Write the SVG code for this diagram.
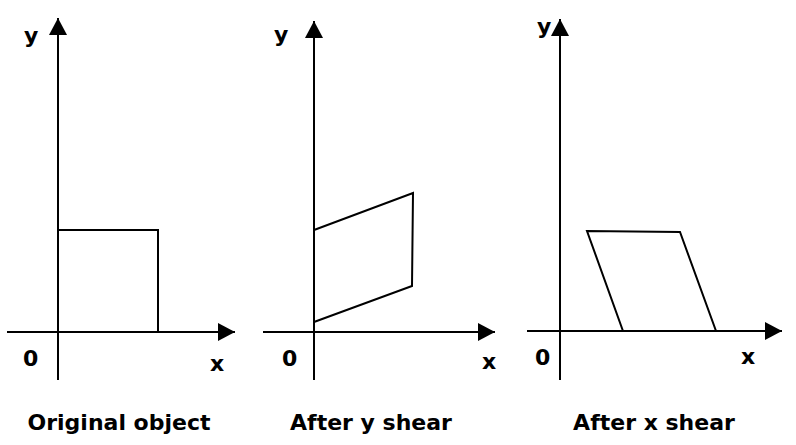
<svg xmlns="http://www.w3.org/2000/svg" width="796" height="445" viewBox="0 0 796 445">
  <style>
    .axis { stroke: #000; stroke-width: 2; fill: none; marker-end: url(#arrow); }
    .shape { stroke: #000; stroke-width: 2; fill: none; stroke-linejoin: miter; }
    .lbl { font-family: "DejaVu Sans", Verdana, sans-serif; font-weight: bold; font-size: 22px; fill: #000; }
    .title { font-family: "DejaVu Sans", Verdana, sans-serif; font-weight: bold; font-size: 22px; fill: #000; text-anchor: middle; }
  </style>
  <defs>
    <marker id="arrow" markerUnits="userSpaceOnUse" markerWidth="18" markerHeight="18" refX="17" refY="9" orient="auto">
      <path d="M0,0 L17,9 L0,18 Z" fill="#000"/>
    </marker>
  </defs>
  <rect width="796" height="445" fill="#fff"/>

  <g id="connectors">
    <line class="axis" x1="58" y1="380" x2="58" y2="18"/>
    <line class="axis" x1="7" y1="332" x2="235" y2="332"/>
    <line class="axis" x1="314" y1="380" x2="314" y2="21"/>
    <line class="axis" x1="263" y1="332" x2="495" y2="332"/>
    <line class="axis" x1="560" y1="380" x2="560" y2="19"/>
    <line class="axis" x1="527" y1="331" x2="782" y2="331"/>
  </g>

  <g id="panel-original">
    <polygon class="shape" points="58,230 158,230 158,332 58,332"/>
    <text class="lbl" x="24" y="43">y</text>
    <text class="lbl" x="23" y="366">0</text>
    <text class="lbl" x="210" y="371">x</text>
    <text class="title" x="119" y="430">Original object</text>
  </g>

  <g id="panel-yshear">
    <polygon class="shape" points="314,322 412,286 413,193 314,230"/>
    <text class="lbl" x="274" y="42">y</text>
    <text class="lbl" x="282" y="366">0</text>
    <text class="lbl" x="482" y="369">x</text>
    <text class="title" x="371" y="430">After y shear</text>
  </g>

  <g id="panel-xshear">
    <polygon class="shape" points="623,331 716,331 680,232 587,231"/>
    <text class="lbl" x="537" y="34">y</text>
    <text class="lbl" x="535" y="365">0</text>
    <text class="lbl" x="741" y="364">x</text>
    <text class="title" x="654" y="430">After x shear</text>
  </g>
</svg>
